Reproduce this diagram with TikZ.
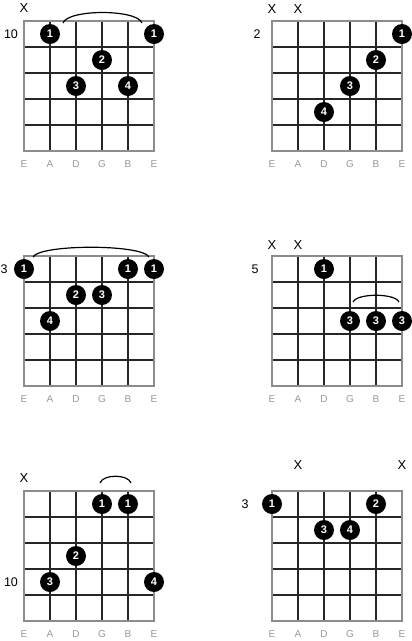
\documentclass[tikz,border=0pt]{standalone}
\usepackage{fontspec}
\setmainfont{Liberation Sans}
\tikzset{
  innerline/.style={line width=1.1pt, color=black!85},
  borderline/.style={line width=1.5pt, color=black!45},
  fdot/.style={circle, fill=black, text=white, inner sep=0pt, minimum size=20pt,
    font=\fontsize{11}{11}\selectfont\bfseries},
  mute/.style={font=\fontsize{13}{13}\selectfont, inner sep=0pt},
  fretnum/.style={font=\fontsize{12.5}{12.5}\selectfont, inner sep=0pt},
  strlabel/.style={text=black!40, font=\fontsize{10}{10}\selectfont, inner sep=0pt},
  barre/.style={line width=1.2pt}
}
\newcommand\chordgrid[2]{%
  \foreach \i in {1,...,4}{
    \draw[innerline] (#1+26*\i,#2) -- (#1+26*\i,#2+130);
    \draw[innerline] (#1,#2+26*\i) -- (#1+130,#2+26*\i);
  }
  \draw[borderline] (#1,#2) rectangle (#1+130,#2+130);
  \foreach \s [count=\k from 0] in {E,A,D,G,B,E}{
    \node[strlabel] at (#1+26*\k,#2+143) {\s};
  }
}
\begin{document}
\begin{tikzpicture}[x=1pt,y=-1pt]
\useasboundingbox (0,0) rectangle (412,641);
\fill[white] (0,0) rectangle (412,641);
% ---------- diagram 1 ----------
\chordgrid{24}{21}
\node[mute] (a1x) at (24,8) {X};
\node[fretnum] (a1n) at (11,34) {10};
\node[fdot] (a1p) at (50,34) {1};
\node[fdot] (a1q) at (154,34) {1};
\node[fdot] (a1r) at (102,60) {2};
\node[fdot] (a1s) at (76,86) {3};
\node[fdot] (a1t) at (128,86) {4};
\coordinate (a1b1) at (63,23);
\coordinate (a1b2) at (142,23);
\draw[barre] (a1b1) .. controls (68,9) and (137,9) .. (a1b2);
% ---------- diagram 2 ----------
\chordgrid{272}{21}
\node[mute] (b1x) at (272,9) {X};
\node[mute] (b2x) at (298,9) {X};
\node[fretnum] (b1n) at (257,34) {2};
\node[fdot] (b1p) at (402,34) {1};
\node[fdot] (b1q) at (376,60) {2};
\node[fdot] (b1r) at (350,86) {3};
\node[fdot] (b1s) at (324,112) {4};
% ---------- diagram 3 ----------
\chordgrid{24}{256}
\node[fretnum] (c1n) at (4,269) {3};
\node[fdot] (c1p) at (24,269) {1};
\node[fdot] (c1q) at (128,269) {1};
\node[fdot] (c1r) at (154,269) {1};
\node[fdot] (c1s) at (76,295) {2};
\node[fdot] (c1t) at (102,295) {3};
\node[fdot] (c1u) at (50,321) {4};
\coordinate (c1b1) at (33,257);
\coordinate (c1b2) at (149,257);
\draw[barre] (c1b1) .. controls (40,244) and (142,244) .. (c1b2);
% ---------- diagram 4 ----------
\chordgrid{272}{256}
\node[mute] (d1x) at (272,245) {X};
\node[mute] (d2x) at (298,245) {X};
\node[fretnum] (d1n) at (255,269) {5};
\node[fdot] (d1p) at (324,269) {1};
\node[fdot] (d1q) at (350,321) {3};
\node[fdot] (d1r) at (376,321) {3};
\node[fdot] (d1s) at (402,321) {3};
\coordinate (d1b1) at (353,302);
\coordinate (d1b2) at (399,302);
\draw[barre] (d1b1) .. controls (357,293) and (395,293) .. (d1b2);
% ---------- diagram 5 ----------
\chordgrid{24}{491}
\node[mute] (e1x) at (24,478) {X};
\node[fretnum] (e1n) at (11,582) {10};
\node[fdot] (e1p) at (102,504) {1};
\node[fdot] (e1q) at (128,504) {1};
\node[fdot] (e1r) at (76,556) {2};
\node[fdot] (e1s) at (50,582) {3};
\node[fdot] (e1t) at (154,582) {4};
\coordinate (e1b1) at (100,483);
\coordinate (e1b2) at (131,483);
\draw[barre] (e1b1) .. controls (103,474) and (128,474) .. (e1b2);
% ---------- diagram 6 ----------
\chordgrid{272}{491}
\node[mute] (f1x) at (298,465) {X};
\node[mute] (f2x) at (402,465) {X};
\node[fretnum] (f1n) at (245,504) {3};
\node[fdot] (f1p) at (272,504) {1};
\node[fdot] (f1q) at (376,504) {2};
\node[fdot] (f1r) at (324,530) {3};
\node[fdot] (f1s) at (350,530) {4};
\end{tikzpicture}
\end{document}
